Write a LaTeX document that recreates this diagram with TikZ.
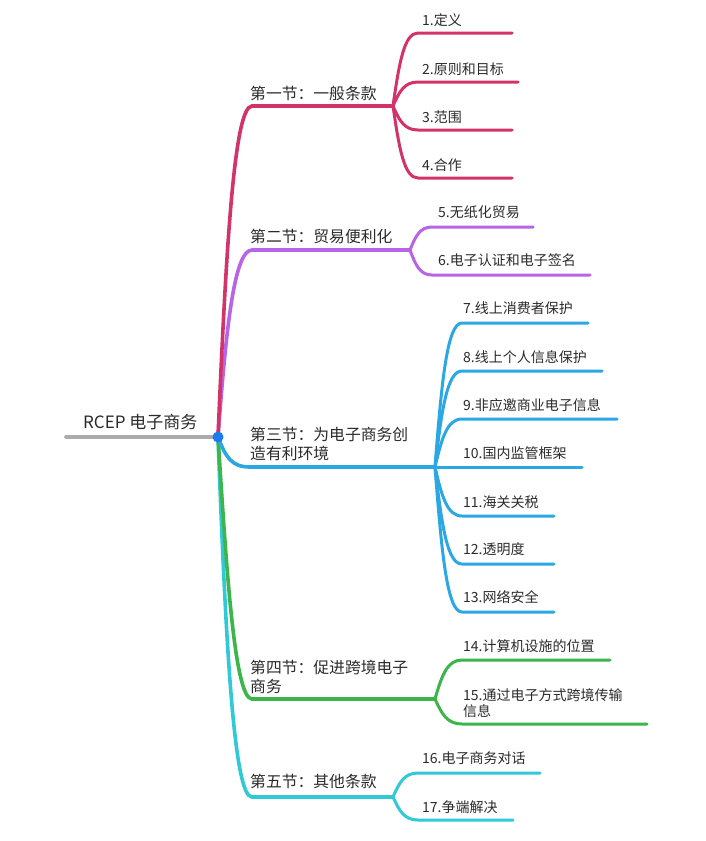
\documentclass[tikz,border=0pt]{standalone}
\usepackage{fontspec}
\setmainfont{Noto Sans CJK SC}
\usetikzlibrary{calc}
\definecolor{cA}{HTML}{D4336A}
\definecolor{cB}{HTML}{B864E6}
\definecolor{cC}{HTML}{2BA8E4}
\definecolor{cD}{HTML}{3CB54A}
\definecolor{cE}{HTML}{31C8D8}
\definecolor{cG}{HTML}{ABABAB}
\definecolor{cDot}{HTML}{1E7BEA}
\definecolor{txt}{HTML}{2B2B2B}
\tikzset{
  br/.style={line width=3.6pt, line cap=round},
  lf/.style={line width=3pt, line cap=round},
  lbl/.style={anchor=base west, inner sep=0pt, text=txt, align=left, font=\fontsize{15.8}{19}\selectfont},
  leaftxt/.style={anchor=base west, inner sep=0pt, text=txt, align=left, font=\fontsize{14}{16}\selectfont},
}
\newcommand\leaf[4]{%
  \path ($(#2)!.25!(#3)$) coordinate (tmpa) ($(#2)!.6!(#3)$) coordinate (tmpb) ($(#2)!.45!(#3)$) coordinate (tmpc);
  \draw[lf,#1] (#2) .. controls (tmpa |- tmpb) and (tmpc |- #3) .. (#3) -- (#4);}
\begin{document}
\begin{tikzpicture}[x=1pt,y=-1pt]
\useasboundingbox (0,0) rectangle (706,841);
\fill[white] (0,0) rectangle (706,841);
% root
\coordinate (rootL) at (66,437);
\coordinate (dotc) at (218,437);
\node[anchor=base west, inner sep=0pt, text=txt, font=\fontsize{17}{20}\selectfont] (root) at (83,428) {RCEP 电子商务};
\draw[br, cG] (rootL) -- (dotc);
% branch corners and hubs
\coordinate (k1) at (252,106); \coordinate (h1) at (393,106);
\coordinate (k2) at (252,250); \coordinate (h2) at (410,250);
\coordinate (k3) at (250,467); \coordinate (h3) at (435,467);
\coordinate (k4) at (252,699); \coordinate (h4) at (435,699);
\coordinate (k5) at (252,797); \coordinate (h5) at (393,797);
% leaves
\foreach \n/\y/\e in {1/33/512, 2/82/518, 3/130/512, 4/178/512} {
  \coordinate (s\n) at (418,\y); \coordinate (e\n) at (\e,\y);
  \leaf{cA}{h1}{s\n}{e\n}
}
\foreach \n/\y/\e in {5/227/533, 6/275/590} {
  \coordinate (s\n) at (432,\y); \coordinate (e\n) at (\e,\y);
  \leaf{cB}{h2}{s\n}{e\n}
}
\foreach \n/\y/\e in {7/323/588, 8/371/602, 9/419/617, 11/516/554, 12/564/554, 13/612/554} {
  \coordinate (s\n) at (462,\y); \coordinate (e\n) at (\e,\y);
  \leaf{cC}{h3}{s\n}{e\n}
}
\coordinate (e10) at (582,467);
\draw[lf, cC] (h3) -- (e10);
\foreach \n/\y/\e in {14/660/610, 15/724/647} {
  \coordinate (s\n) at (462,\y); \coordinate (e\n) at (\e,\y);
  \leaf{cD}{h4}{s\n}{e\n}
}
\foreach \n/\y/\e in {16/773/540, 17/820/513} {
  \coordinate (s\n) at (418,\y); \coordinate (e\n) at (\e,\y);
  \leaf{cE}{h5}{s\n}{e\n}
}
% main branches
\draw[br, cE] (dotc) .. controls (226,650) and (234,797) .. (k5) -- (h5);
\draw[br, cD] (dotc) .. controls (226,560) and (234,699) .. (k4) -- (h4);
\draw[br, cC] (dotc) .. controls (226,458) and (232,467) .. (k3) -- (h3);
\draw[br, cB] (dotc) .. controls (226,330) and (234,250) .. (k2) -- (h2);
\draw[br, cA] (dotc) .. controls (226,250) and (234,106) .. (k1) -- (h1);
\node[circle, fill=cDot, inner sep=0pt, minimum size=11pt] (dot) at (dotc) {};
% branch labels
\node[lbl] (b1) at (250,99) {第一节：一般条款};
\node[lbl] (b2) at (250,242.7) {第二节：贸易便利化};
\node[lbl] (b3) at (250,459.3) {第三节：为电子商务创\\造有利环境};
\node[lbl] (b4) at (250,692) {第四节：促进跨境电子\\商务};
\node[lbl] (b5) at (250,787.7) {第五节：其他条款};
% leaf labels
\node[leaftxt] (t1) at (422,25) {1.定义};
\node[leaftxt] (t2) at (422,74) {2.原则和目标};
\node[leaftxt] (t3) at (422,122) {3.范围};
\node[leaftxt] (t4) at (422,170) {4.合作};
\node[leaftxt] (t5) at (438,217) {5.无纸化贸易};
\node[leaftxt] (t6) at (438,265.5) {6.电子认证和电子签名};
\node[leaftxt] (t7) at (463,313.5) {7.线上消费者保护};
\node[leaftxt] (t8) at (463,362) {8.线上个人信息保护};
\node[leaftxt] (t9) at (463,410.5) {9.非应邀商业电子信息};
\node[leaftxt] (t10) at (463,458.5) {10.国内监管框架};
\node[leaftxt] (t11) at (463,507) {11.海关关税};
\node[leaftxt] (t12) at (463,554.5) {12.透明度};
\node[leaftxt] (t13) at (463,602.5) {13.网络安全};
\node[leaftxt] (t14) at (463,651.5) {14.计算机设施的位置};
\node[leaftxt] (t15) at (463,716.5) {15.通过电子方式跨境传输\\信息};
\node[leaftxt] (t16) at (422,763.5) {16.电子商务对话};
\node[leaftxt] (t17) at (422,812.5) {17.争端解决};
\end{tikzpicture}
\end{document}
